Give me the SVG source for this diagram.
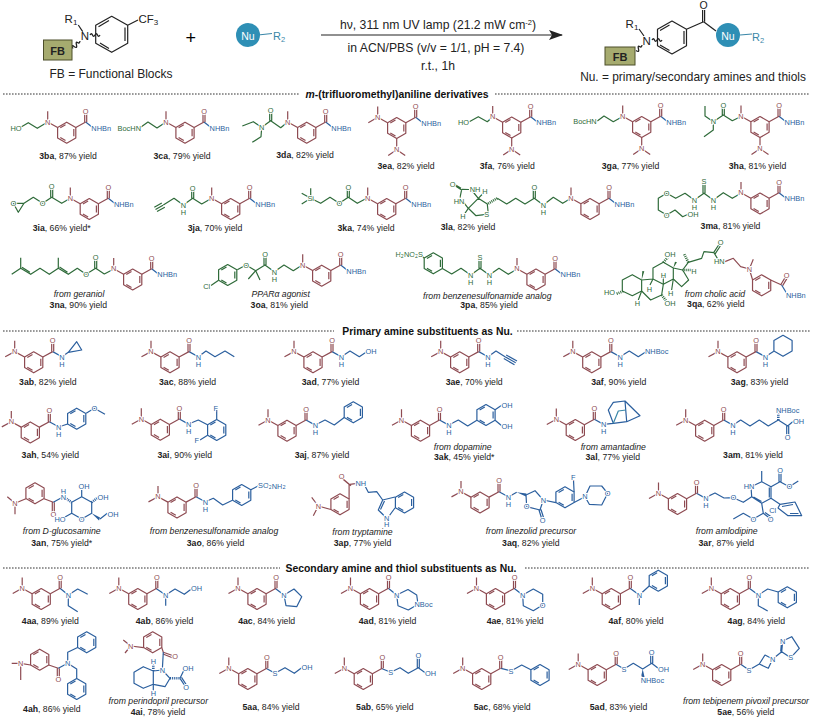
<svg xmlns="http://www.w3.org/2000/svg" width="813" height="718" viewBox="0 0 813 718">
<style>
svg{font-family:"Liberation Sans",Arial,sans-serif}
text{font-family:"Liberation Sans",Arial,sans-serif;fill:currentColor;stroke:none}
path,line{fill:none;stroke:currentColor;stroke-width:1.2;stroke-linejoin:round}
.m{color:#8e4b52}.g{color:#2f6b3a}.u{color:#2b5f9e}.k{color:#222}.te{color:#3a87a8}
.a{font-size:7.4px;text-anchor:middle;dominant-baseline:central;stroke:#fff;stroke-width:2px;paint-order:stroke}
.s{text-anchor:start}.e{text-anchor:end}
.y{font-size:8.7px;text-anchor:middle;dominant-baseline:central;fill:#222}
.i{font-style:italic}.bd{font-weight:bold}
.hd{font-size:10.4px;font-weight:bold;text-anchor:middle;dominant-baseline:central;fill:#111}
.dot{stroke:#333;stroke-width:1;stroke-dasharray:1.6 1.4}
.w{fill:currentColor;stroke:none}
.h{stroke-dasharray:1 .9;stroke-width:2.6}
.r{font-size:12.2px;fill:#222;text-anchor:middle;dominant-baseline:central}
.sc path{stroke-width:3.5}.sc .h{stroke-width:8;stroke-dasharray:3 3}.sc .w{stroke:none}
</style>
<defs>
<marker id="ah" markerWidth="14" markerHeight="10" refX="13" refY="5" orient="auto" markerUnits="userSpaceOnUse"><path d="M0 0L14 5L0 10L3 5Z" style="fill:#222;stroke:none"/></marker>
<g id="ar"><path d="M0-10.5L9.1-5.25V5.25L0 10.5L-9.1 5.25V-5.25ZM7.1-3.6V3.6M-6.4 4.9L-1.2 7.9M-6.4-4.9L-1.2-7.9"/></g>
<g id="base"><path d="M9.1-5.25L19-10.7M18-10.7V-19M20-10.7V-19M-9.1-5.25L-19-10.7V-21.5"/><use href="#ar"/><text class="a" x="19" y="-21.5">O</text></g>
<g id="cA"><path class="u" d="M19-10.7L25-6"/><use href="#base"/><text class="a" x="-19" y="-10.7">N</text><text class="a s u" x="24.6" y="-4.7">NHBn</text></g>
<g id="cB"><path d="M0 10.5V21.8M0 21.8L-8.5 27.5M0 21.8L8.5 27.5"/><use href="#cA"/><text class="a" x="0" y="21.8">N</text></g>
<g id="cD"><path d="M-19-10.7L-28.5-5.5"/><use href="#base"/><text class="a" x="-19" y="-10.7">N</text></g>
<g id="cH"><path class="u" d="M19-10.7L28.3-5.6"/><use href="#cD"/><text class="a u"><tspan x="28.3" y="-5.6">N</tspan><tspan x="28.3" dy="6.8">H</tspan></text></g>
<g id="cy"><path d="M0-10.5L9.1-5.25V5.25L0 10.5L-9.1 5.25V-5.25Z"/></g>
</defs>
<rect width="813" height="718" fill="#fff"/>

<g id="connectors">
<path d="M321 35H562" style="stroke:#222;stroke-width:1.2" marker-end="url(#ah)"/>
<path class="dot" d="M3 94H300M495 94H810M3 331H334M517 331H810M3 568H280M525 568H810"/>
</g>

<g id="reactant-aniline" class="k">
<path d="M111.7 16.3L127.7 25.3V43.3L111.7 52.3L95.7 43.3V25.3ZM98.5 26.8L109 20.5M125 27.5V41M100 43L109 48.5M127.7 25.3L138 20M78.3 25L82.7 31.7"/>
<path d="M90 35q1.5-2.5 2.5 0t2.5 0t2.5 0t2.5 0M80 41q-.5 3-2.5 1.5t-1 2.5t-2.5 1.5t-1 2" style="stroke-width:1.3"/>
<text x="71" y="18.5" font-size="11.5" text-anchor="middle" dominant-baseline="central">R<tspan font-size="8" dy="3">1</tspan></text>
<text x="85" y="36" font-size="11.5" text-anchor="middle" dominant-baseline="central">N</text>
<text x="138.5" y="18.5" font-size="11.5" dominant-baseline="central">CF<tspan font-size="8" dy="3">3</tspan></text>
<rect x="43.5" y="40" width="28.5" height="20" style="fill:#a6ab6f;stroke:#4d4f2a;stroke-width:1"/>
<text x="57.5" y="51" font-size="11" font-weight="bold" text-anchor="middle" dominant-baseline="central">FB</text>
<text x="111" y="74" font-size="12" text-anchor="middle" dominant-baseline="central">FB = Functional Blocks</text>
</g>
<g id="plus"><text x="190.7" y="38" font-size="18" text-anchor="middle" dominant-baseline="central" fill="#222">+</text></g>
<g id="reactant-nu" class="te">
<path d="M258 35L272 33.5"/>
<circle cx="248" cy="35" r="12" fill="#2e8fb5"/>
<text x="248" y="35.5" font-size="10.5" text-anchor="middle" dominant-baseline="central" style="fill:#fff">Nu</text>
<text x="273" y="36" font-size="11" dominant-baseline="central">R<tspan font-size="7.5" dy="3">2</tspan></text>
</g>
<g id="conditions">
<text class="r" x="438" y="25">hν, 311 nm UV lamp (21.2 mW cm<tspan font-size="7.5" dy="-3">-2</tspan><tspan dy="3">)</tspan></text>
<text class="r" x="436" y="48">in ACN/PBS (v/v = 1/1, pH = 7.4)</text>
<text class="r" x="438" y="66">r.t.,  1h</text>
</g>
<g id="product" class="k">
<path d="M672 21L686.5 29.2V45.8L672 54L657.5 45.8V29.2ZM660 30.5L669.5 25M684 31V44M660 45L669.5 50.5M686.5 29.2L703.6 21.7M702.6 21.7V10M704.6 21.7V10M639 29L644 36"/>
<path d="M652 40q1.5-2.5 2.5 0t2.5 0t2.5 0t2.5 0M642 45q-.5 3-2.5 1.5t-1 2.5t-2.5 1.5" style="stroke-width:1.3"/>
<text x="632" y="24" font-size="11.5" text-anchor="middle" dominant-baseline="central">R<tspan font-size="8" dy="3">1</tspan></text>
<text x="646.6" y="41" font-size="11.5" text-anchor="middle" dominant-baseline="central">N</text>
<text x="703.6" y="5" font-size="10.5" text-anchor="middle" dominant-baseline="central">O</text>
<rect x="605" y="47" width="30" height="18" style="fill:#a6ab6f;stroke:#4d4f2a;stroke-width:1"/>
<text x="620" y="57" font-size="11" font-weight="bold" text-anchor="middle" dominant-baseline="central">FB</text>
<path d="M703.6 21.7L716 31"/>
<path class="te" d="M740 35L752 34"/>
<circle cx="728" cy="35" r="12" fill="#2e8fb5"/>
<text x="728" y="35.5" font-size="10.5" text-anchor="middle" dominant-baseline="central" style="fill:#fff">Nu</text>
<text class="te" x="752" y="37" font-size="11" dominant-baseline="central">R<tspan font-size="7.5" dy="3">2</tspan></text>
<text x="693" y="77" font-size="11.9" text-anchor="middle" dominant-baseline="central">Nu. = primary/secondary amines and thiols</text>
</g>

<g id="header-1"><text class="hd" x="397" y="94"><tspan class="i">m</tspan>-(trifluoromethyl)aniline derivatives</text></g>
<g id="header-2"><text class="hd" x="427.5" y="331">Primary amine substituents as Nu.</text></g>
<g id="header-3"><text class="hd" x="401" y="568">Secondary amine and thiol substituents as Nu.</text></g>

<!-- row 1 -->
<g id="c3ba" class="g"><path d="M47.7 122L37.3 128.3L28.3 122.7L20.7 127.3"/><text class="a" x="16" y="128.3">HO</text><use href="#cA" x="66.7" y="132.7" class="m"/><text class="y" x="68" y="156"><tspan class="bd">3ba</tspan>, 87% yield</text></g>
<g id="c3ca" class="g"><path d="M166 122L157 128L148 122L141 127"/><text class="a e" x="141" y="128">BocHN</text><use href="#cA" x="185" y="132.7" class="m"/><text class="y" x="182" y="155.7"><tspan class="bd">3ca</tspan>, 79% yield</text></g>
<g id="c3da" class="g"><path d="M287.7 122L280.7 127.7L270.7 120.7L261.7 127.3L253.3 121.7L242.3 126M261.7 127.3L261 136.7L252.3 142.3M269.7 120.7V112M271.7 120.7V112"/><text class="a" x="270.7" y="110">O</text><text class="a" x="261.7" y="127.3">N</text><use href="#cA" x="306.7" y="132.7" class="m"/><text class="y" x="305" y="155"><tspan class="bd">3da</tspan>, 82% yield</text></g>
<g id="c3ea" class="g"><path class="m" d="M377.7 117.3L368.3 122.7"/><use href="#cB" x="396.7" y="128" class="m"/><text class="y" x="406" y="166"><tspan class="bd">3ea</tspan>, 82% yield</text></g>
<g id="c3fa" class="g"><path d="M492.7 116.7L487.3 121.7L478.3 116.7L469.3 121.7"/><text class="a" x="463.5" y="122.3">HO</text><use href="#cB" x="511.7" y="127.5" class="m"/><text class="y" x="507.3" y="166"><tspan class="bd">3fa</tspan>, 76% yield</text></g>
<g id="c3ga" class="g"><path d="M622.7 116.5L613.3 121.7L604 116L597.3 121"/><text class="a e" x="596.7" y="121.7">BocHN</text><use href="#cB" x="641.7" y="127" class="m"/><text class="y" x="630.5" y="166"><tspan class="bd">3ga</tspan>, 77% yield</text></g>
<g id="c3ha" class="g"><path d="M741 116.5L732.3 120.7L723.3 115L713.3 121.7L705 116V106M713.3 121.7V130L704 136.7M722.3 115V107M724.3 115V107"/><text class="a" x="723.3" y="105">O</text><text class="a" x="713.3" y="121.7">N</text><use href="#cB" x="760" y="127" class="m"/><text class="y" x="757.5" y="166"><tspan class="bd">3ha</tspan>, 81% yield</text></g>

<!-- row 2 -->
<g id="c3ia" class="g"><path d="M70.3 198.3L61.7 203.3L51.7 197.3L42.7 203.3L33.3 197.3L24 203.3L13.3 203.3L18.3 212.3L24 203.3M50.7 197.3V188.5M52.7 197.3V188.5"/><text class="a" x="51.7" y="186.7">O</text><text class="a" x="42.7" y="203.3">O</text><text class="a" x="13.3" y="203.3">O</text><use href="#cA" x="89.3" y="209" class="m"/><text class="y" x="61.7" y="228.3"><tspan class="bd">3ia</tspan>, 66% yield*</text></g>
<g id="c3ja" class="g"><path d="M211.7 198.3L201.7 204L192.7 198.3L183.3 205L174 198.3L163.3 205M161.8 203L154.3 207.3M163 205.2L155.5 209.5M164.8 207.2L157 211.5M191.7 198.3V189.5M193.7 198.3V189.5"/><text class="a" x="192.7" y="188">O</text><text class="a"><tspan x="183.3" y="205">N</tspan><tspan x="183.3" dy="6.8">H</tspan></text><use href="#cA" x="230.7" y="209" class="m"/><text class="y" x="215" y="228"><tspan class="bd">3ja</tspan>, 70% yield</text></g>
<g id="c3ka" class="g"><path d="M366.7 198.3L357.3 203.3L348.3 197.3L339.3 203.3L330 197.3L320.7 203.3L310.7 198.3L301.7 193.3M310.7 198.3V188.3M310.7 198.3L301.7 204M347.3 197.3V189M349.3 197.3V189"/><text class="a" x="348.3" y="187.3">O</text><text class="a" x="339.3" y="203.3">O</text><text class="a" x="310.7" y="198.3">Si</text><use href="#cA" x="386.7" y="209" class="m"/><text class="y" x="366" y="228"><tspan class="bd">3ka</tspan>, 74% yield</text></g>
<g id="c3la" class="g"><path d="M571 198.3L562.7 203.3L553.3 197.3L543.3 205L534.3 198.3L525 204L515.7 198.3L506.7 204L497.3 198.3M533.3 198.3V189M535.3 198.3V189M478.3 198.3L487.3 204L488 211L486.7 214.3L476 215.7L468.3 208.3L478.3 198.3M478.3 198.3L472 190.5M461.7 189.3L469 189.5M461 188.3L454 184M462 190.3L455.5 186M461.7 189.3L459.5 200M463 201.7L468.3 208.3"/><path class="h" d="M497.3 198.3L487.3 204"/><path d="M478.3 198.3L483.5 193M468.3 208.3L464.5 214"/><text class="a" x="534.3" y="187.3">O</text><text class="a"><tspan x="543.3" y="205">N</tspan><tspan x="543.3" dy="6.8">H</tspan></text><text class="a" x="475" y="189.3">NH</text><text class="a" x="459" y="201.7">HN</text><text class="a" x="452.5" y="184.5">O</text><text class="a" x="485" y="191.5">H</text><text class="a" x="463" y="216">H</text><text class="a" x="486.7" y="214.3">S</text><use href="#cA" x="590" y="209" class="m"/><text class="y" x="468" y="227"><tspan class="bd">3la</tspan>, 82% yield</text></g>
<g id="c3ma" class="g"><path d="M741 193.3L732.3 198.3L723.3 192.7L713.3 200L704 193.3L694.3 200L685 193.3L675.7 198.3L666.7 193.3L658.3 198.3V210L666.7 215L675 210L682.7 216.7L688 214.3M703 193.3V183.5M705 193.3V183.5"/><text class="a" x="704" y="181.7">S</text><text class="a"><tspan x="713.3" y="200">N</tspan><tspan x="713.3" dy="6.8">H</tspan></text><text class="a"><tspan x="694.3" y="200">N</tspan><tspan x="694.3" dy="6.8">H</tspan></text><text class="a" x="666.7" y="193.3">O</text><text class="a" x="666.7" y="215">O</text><text class="a s" x="687.5" y="214.3">OH</text><use href="#cA" x="760" y="203.5" class="m"/><text class="y" x="730.5" y="225.7"><tspan class="bd">3ma</tspan>, 81% yield</text></g>

<!-- row 3 -->
<g id="c3na" class="g"><path d="M114 269L104.3 274L95.7 268.3L86 274.3L77.3 268.3L68.3 274.3L58.3 268.3V257.7M58.3 268.3L49.3 274.3L40 268.3L30.7 274.3L20.7 268.3V257.7M20.7 268.3L11.7 274.3M94.7 268.3V259.5M96.7 268.3V259.5M67.5 272.3L59.5 267M29.9 272.3L22 267.2"/><text class="a" x="95.7" y="257.7">O</text><text class="a" x="86" y="274.3">O</text><use href="#cA" x="132.7" y="279.5" class="m"/><text class="y i" x="79" y="293.7">from geraniol</text><text class="y" x="78.3" y="305"><tspan class="bd">3na</tspan>, 90% yield</text></g>
<g id="c3oa" class="g"><path d="M302.3 265L293.3 270.7L284 265L274.3 271.7L265 265L255.7 270.7L246 265L237.3 269.7M255.7 270.7L260 280M255.7 270.7L248.3 279M264 265V256M266 265V256M218.6 280.3L211 285.5"/><use href="#ar" x="227.7" y="275"/><text class="a" x="265" y="254.3">O</text><text class="a"><tspan x="274.3" y="271.7">N</tspan><tspan x="274.3" dy="6.8">H</tspan></text><text class="a" x="246" y="265">O</text><text class="a" x="206.7" y="286.7">Cl</text><use href="#cA" x="321.7" y="275.7" class="m"/><text class="y i" x="280.7" y="293.7">PPARα agonist</text><text class="y" x="279.3" y="305"><tspan class="bd">3oa</tspan>, 81% yield</text></g>
<g id="c3pa" class="g"><path d="M517.3 269L508.3 274.3L499 268.3L489.3 275L480 268.3L470.7 275L461 268.3L451.7 274L442.4 268.6M479 268.3V259.5M481 268.3V259.5M424.2 258L420 254.3"/><use href="#ar" x="433.3" y="263.3"/><text class="a" x="480" y="257.7">S</text><text class="a"><tspan x="489.3" y="275">N</tspan><tspan x="489.3" dy="6.8">H</tspan></text><text class="a"><tspan x="470.7" y="275">N</tspan><tspan x="470.7" dy="6.8">H</tspan></text><text class="a e" x="423" y="254.3">H<tspan font-size="5.5" dy="1.5">2</tspan><tspan dy="-1.5">NO</tspan><tspan font-size="5.5" dy="1.5">2</tspan><tspan dy="-1.5">S</tspan></text><use href="#cA" x="536" y="279.5" class="m"/><text class="y i" x="487.3" y="295.7">from benzenesulfonamide analog</text><text class="y" x="489" y="305"><tspan class="bd">3pa</tspan>, 85% yield</text></g>
<g id="c3qa" class="g">
<g transform="translate(400 205) scale(.3333)" class="sc">
<path d="M667 225L697 209L725 225V258L697 272L667 258ZM725 225L759 222L790 238L785 270L752 285L725 258M759 222V189L790 172L820 189V222L790 238M820 189L848 195L866 225L845 245L820 222M865 172L905 160L912 140L942 143L958 170M848 195L865 172M941 143L956 120M946 146L961 123"/>
<path class="m" d="M975 170L1000 160L1022 185L1048 192L1060 163M1048 192L1058 225M1112 225L1145 240M1142 240L1157 215M1148 242L1163 217"/>
<path class="u" d="M1145 240L1160 265"/>
<path class="w" d="M725 225L727 198L733 199ZM820 189L825 170L831 172Z"/>
<path class="h" d="M650 266L672 258M790 172L803 158M785 270L798 287M865 172L852 146M880 195L848 195"/>
<path d="M790 238V215M759 222L750 240M820 222L815 255M725 258L715 285"/>
<use href="#ar" transform="translate(1085 241) scale(3)" class="m"/>
</g>
<text class="a" x="609.5" y="292.3">HO</text><text class="a" x="670" y="254.3">OH</text><text class="a" x="670" y="303.3">OH</text><text class="a" x="649.3" y="289">H</text><text class="a" x="663.3" y="275.7">H</text><text class="a" x="670.7" y="293.3">H</text><text class="a" x="637.3" y="303.3">H</text><text class="a" x="694" y="271.7">H</text><text class="a" x="719.3" y="261.7">HN</text><text class="a" x="720.7" y="242.7">O</text><text class="a m" x="749.3" y="269">N</text><text class="a m" x="786.7" y="275.7">O</text><text class="a s u" x="786" y="295.7">NHBn</text>
<text class="y i" x="715" y="294.3">from cholic acid</text><text class="y" x="715.8" y="304.3"><tspan class="bd">3qa</tspan>, 62% yield</text></g>

<!-- row 4 -->
<g id="c3ab" class="u"><path d="M62 356.7L68.3 352.3L76.7 341.7L81.7 350L68.3 352.3"/><use href="#cH" x="33.7" y="362.3" class="m"/><text class="y" x="47.8" y="382.3"><tspan class="bd">3ab</tspan>, 82% yield</text></g>
<g id="c3ac" class="u"><path d="M198.3 356.7L206 351L215 356.7L225 351L234.3 356.7"/><use href="#cH" x="170" y="362.3" class="m"/><text class="y" x="187.5" y="382.3"><tspan class="bd">3ac</tspan>, 88% yield</text></g>
<g id="c3ad" class="u"><path d="M341.3 356.7L350 351L359.3 356.7L366.7 351.7"/><text class="a s" x="365.5" y="351">OH</text><use href="#cH" x="313" y="362.3" class="m"/><text class="y" x="330.5" y="382.3"><tspan class="bd">3ad</tspan>, 77% yield</text></g>
<g id="c3ae" class="u"><path d="M488 356.7L496 351L505 356.7L515.7 362.7M503.8 358.5L514.5 364.7M506.2 355L517 361"/><use href="#cH" x="459.7" y="362.3" class="m"/><text class="y" x="474.2" y="382.3"><tspan class="bd">3ae</tspan>, 70% yield</text></g>
<g id="c3af" class="u"><path d="M620 356.7L629.3 351L638.3 356.7L646 351.7"/><text class="a s" x="645" y="351">NHBoc</text><use href="#cH" x="591.8" y="362.3" class="m"/><text class="y" x="618.7" y="382.3"><tspan class="bd">3af</tspan>, 90% yield</text></g>
<g id="c3ag" class="u"><path d="M765.3 356.7L773.8 351.3"/><use href="#cy" x="783" y="345.8"/><use href="#cH" x="737" y="362.3" class="m"/><text class="y" x="759.5" y="382.3"><tspan class="bd">3ag</tspan>, 83% yield</text></g>

<!-- row 5 -->
<g id="c3ah" class="u"><path d="M58.6 427L67.6 424M86.2 413.2L94.3 408.3L105 414.3"/><use href="#ar" x="76.7" y="418.7"/><text class="a" x="94.3" y="408.3">O</text><use href="#cH" x="30.3" y="432.4" class="m"/><text class="y" x="50.3" y="455"><tspan class="bd">3ah</tspan>, 54% yield</text></g>
<g id="c3ai" class="u"><path d="M188.6 424L198.3 420L207.5 424.7M216.7 419.5V410M207.6 435.2L200 440"/><use href="#ar" x="216.7" y="430"/><text class="a" x="215.7" y="408.3">F</text><text class="a" x="196.7" y="440.7">F</text><use href="#cH" x="160.3" y="429.7" class="m"/><text class="y" x="184.7" y="455"><tspan class="bd">3ai</tspan>, 90% yield</text></g>
<g id="c3aj" class="u"><path d="M315.3 425L325 420L334.3 425L344.2 417.5"/><use href="#ar" x="353.3" y="412.3"/><use href="#cH" x="287" y="430.7" class="m"/><text class="y" x="322" y="455"><tspan class="bd">3aj</tspan>, 87% yield</text></g>
<g id="c3ak" class="u"><path d="M448.8 425L458.3 420L467.7 426L476.9 420.3M495.1 409.8L502 405M495.1 420.2L502 426"/><use href="#ar" x="486" y="415"/><text class="a s" x="501.5" y="405">OH</text><text class="a s" x="501.5" y="426.7">OH</text><use href="#cH" x="420.5" y="430.7" class="m"/><text class="y i" x="462.7" y="446.7">from dopamine</text><text class="y" x="464.2" y="457"><tspan class="bd">3ak</tspan>, 45% yield*</text></g>
<g id="c3al" class="u"><path d="M603.6 424.4L613.3 423.3L608.3 410L613.3 402.3L625 401L640 415.7L626.7 421.7L613.3 423.3M625 401L626.7 421.7"/><path class="te" d="M613.3 423.3L618.3 411L626 410"/><use href="#cH" x="575.3" y="430" class="m"/><text class="y i" x="613.3" y="447">from amantadine</text><text class="y" x="612.8" y="457"><tspan class="bd">3al</tspan>, 77% yield</text></g>
<g id="c3am" class="u"><path d="M733 425L740.7 420L750 426L759.3 420L768.3 426L778.3 420L787.7 426L793 421.5M786.7 426V436M788.7 426V436"/><path class="h" d="M778.3 420V413"/><text class="a s" x="776" y="410">NHBoc</text><text class="a s" x="793" y="421">OH</text><text class="a" x="787.7" y="437.7">O</text><use href="#cH" x="704.7" y="430.7" class="m"/><text class="y" x="753" y="455"><tspan class="bd">3am</tspan>, 81% yield</text></g>

<!-- row 6 -->
<g id="c3an" class="u"><path class="m" d="M25.9 498.8L15 503.3L7.3 496.7M15 503.3V514.3M44.1 498.8L53.3 502.3M52.3 502.3V512.5M54.3 502.3V512.5"/><path d="M53.3 502.3L63.3 496.7M71.7 502.3L81.7 496.7L91.7 502.3V513.3L81.7 519L71.7 513.3ZM71.7 513.3L65 517M100 519L107.3 513.3M81.7 496.7V490"/><path class="h" d="M63.3 496.7L71.7 502.3M91.7 502.3L98 497.5"/><path class="w" d="M91.7 513.3L100 517.5L99 520.5Z"/><use href="#ar" x="35" y="493.3" class="m"/><text class="a m" x="15" y="503.3">N</text><text class="a m" x="53.3" y="514.3">O</text><text class="a"><tspan x="63.3" y="490.5">H</tspan><tspan x="63.3" dy="6.5">N</tspan></text><text class="a" x="84" y="486.7">OH</text><text class="a s" x="97.5" y="497">OH</text><text class="a" x="81.7" y="519">O</text><text class="a" x="60" y="519">HO</text><text class="a s" x="107.5" y="514">OH</text><text class="y i" x="61.7" y="531">from D-glucosamine</text><text class="y" x="61.7" y="543.3"><tspan class="bd">3an</tspan>, 75% yield*</text></g>
<g id="c3ao" class="u"><path d="M205.3 501.8L213.3 498.3L222.7 505L232.4 500.3M250.8 489.8L258 486"/><use href="#ar" x="241.7" y="495"/><text class="a s" x="258" y="485.7">SO<tspan font-size="5.5" dy="1.5">2</tspan><tspan dy="-1.5">NH</tspan><tspan font-size="5.5" dy="1.5">2</tspan></text><use href="#cH" x="177" y="507.4" class="m"/><text class="y i" x="214" y="531">from benzenesulfonamide analog</text><text class="y" x="215.5" y="543"><tspan class="bd">3ao</tspan>, 86% yield</text></g>
<g id="c3ap" class="u"><path class="m" d="M330.9 509.5L318.3 506L311.7 497.3M318.3 506L313.3 515.7M349.1 499V484.3M349 484.3L341 477.5M351 485.8L343 479M350 484.3L357 483.3"/><path d="M364 484L368.3 492.3L376.7 491.7L382.7 500L378.3 510L385 516.5M382.7 500L395 497M388 517.5L395 508M384.5 501L380.5 509.5"/><use href="#ar" x="404.5" y="502.5"/><use href="#ar" x="340" y="504.3" class="m"/><text class="a m" x="318.3" y="506">N</text><text class="a m" x="341.7" y="476">O</text><text class="a s" x="355.5" y="483.3">NH</text><text class="a"><tspan x="386.7" y="518">N</tspan><tspan x="386.7" dy="6">H</tspan></text><text class="y i" x="362.5" y="532">from tryptamine</text><text class="y" x="362.5" y="543"><tspan class="bd">3ap</tspan>, 77% yield</text></g>
<g id="c3aq" class="u"><path d="M508.3 497L516.7 492.3M526 495L535 490.7L543.3 500L540 510L526.7 506.7L526 495M539 510L541.5 518M541 509.5L543.5 517.5M543.3 500L555.9 502.7M574.1 492L573.5 480M574.1 502.5L585 496.7L590 486H601.7L607.7 493.3L601.7 505L589.3 504.3L585 496.7"/><path class="w" d="M516.7 492.3L526.5 493.5L526 496.5Z"/><use href="#ar" x="565" y="497.3"/><text class="a" x="543.3" y="500">N</text><text class="a" x="526.7" y="506.7">O</text><text class="a" x="542.7" y="520">O</text><text class="a" x="573.3" y="477.7">F</text><text class="a" x="585" y="496.7">N</text><text class="a" x="607.7" y="493.3">O</text><use href="#cH" x="480" y="502.4" class="m"/><text class="y i" x="531" y="531">from linezolid precursor</text><text class="y" x="530.8" y="543"><tspan class="bd">3aq</tspan>, 82% yield</text></g>
<g id="c3ar" class="u"><path d="M705.8 497.4L715 493L724 498L733.3 497.7L743.3 502.3L751.7 496.7L751 486.7L761.7 481.7V471M761.7 481.7L771 486.7V498.3L761.7 503.3L751.7 496.7M769.3 487.5V497.5M753.5 497L761.5 501.5M771 486.7L780 481.7L789.3 486.7L798.3 481M779 481.7V472M781 481.7V472M771 498.3L780 504.3L795 502L801.7 515.7L788 515.7L778 508L780 504.3M782 506.5L793 504.5M790 513.5L798.5 513.5M761.7 503.3L763.3 513.3L770.7 519M765 512.5L771.5 517M763.3 513.3L753.3 519L743.3 513.3L733.3 519"/><text class="a" x="733.3" y="497.7">O</text><text class="a" x="749" y="486.7">HN</text><text class="a" x="780" y="470">O</text><text class="a" x="789.3" y="486.7">O</text><text class="a" x="772.7" y="510.7">Cl</text><text class="a" x="770.7" y="519">O</text><text class="a" x="753.3" y="519">O</text><use href="#cH" x="677.5" y="504" class="m"/><text class="y i" x="726.7" y="531">from amlodipine</text><text class="y" x="726.3" y="543"><tspan class="bd">3ar</tspan>, 87% yield</text></g>

<!-- row 7 -->
<g id="c4aa" class="u"><path d="M60 588.3L68.3 595L77.7 589L87.7 594.3M68.3 595V605.7L77.7 611.7"/><text class="a" x="68.3" y="595">N</text><use href="#cD" x="41.2" y="599" class="m"/><text class="y" x="50.3" y="620.7"><tspan class="bd">4aa</tspan>, 89% yield</text></g>
<g id="c4ab" class="u"><path d="M155.7 588.3L165.7 595L175 589L184.3 594.3L190.7 589.5M165.7 595V605.7"/><text class="a" x="165.7" y="595">N</text><text class="a s" x="191" y="588.3">OH</text><use href="#cD" x="137.8" y="599" class="m"/><text class="y" x="164.5" y="620.7"><tspan class="bd">4ab</tspan>, 86% yield</text></g>
<g id="c4ac" class="u"><path d="M275 588.3L284 595L294 589L301.7 596.7L296.7 606.7L286 605.7L284 595"/><text class="a" x="284" y="595">N</text><use href="#cD" x="257" y="599" class="m"/><text class="y" x="266.7" y="620.7"><tspan class="bd">4ac</tspan>, 84% yield</text></g>
<g id="c4ad" class="u"><path d="M388.3 588.3L396.7 595L408 589.5L416.7 595L418 604.3L408.3 610L398 605.7L396.7 595"/><text class="a" x="396.7" y="595">N</text><text class="a s" x="414.5" y="604.3">NBoc</text><use href="#cD" x="369.5" y="599" class="m"/><text class="y" x="387.5" y="620.7"><tspan class="bd">4ad</tspan>, 81% yield</text></g>
<g id="c4ae" class="u"><path d="M514 588.3L522.7 595L533.3 589L542.7 594.3V605L533.3 610.7L523.3 605.7L522.7 595"/><text class="a" x="522.7" y="595">N</text><text class="a" x="542.7" y="605">O</text><use href="#cD" x="495.5" y="599" class="m"/><text class="y" x="515.2" y="620.7"><tspan class="bd">4ae</tspan>, 81% yield</text></g>
<g id="c4af" class="u"><path d="M630 588.3L639.3 595V605M639.3 595L649.2 586"/><use href="#ar" x="658.3" y="580.7"/><text class="a" x="639.3" y="595">N</text><use href="#cD" x="611.3" y="599" class="m"/><text class="y" x="636" y="620.7"><tspan class="bd">4af</tspan>, 80% yield</text></g>
<g id="c4ag" class="u"><path d="M749.3 588.3L758.3 595L767.7 589L778.2 592M758.3 595V605.7L767.7 611"/><use href="#ar" x="787.3" y="597.3"/><text class="a" x="758.3" y="595">N</text><use href="#cD" x="730.3" y="599" class="m"/><text class="y" x="756.3" y="620.7"><tspan class="bd">4ag</tspan>, 84% yield</text></g>

<!-- row 8 -->
<g id="c4ah" class="u"><path class="m" d="M30.6 665L20.7 663.3L11.7 663.3M20.7 663.3V680M48.8 665L58.3 668.3M57.3 668.3V677.5M59.3 668.3V677.5"/><path d="M58.3 668.3L67.7 663.3V652.3L77.6 647.5M67.7 663.3L76.7 669V678.5"/><use href="#ar" x="86.7" y="642.3"/><use href="#ar" x="76.7" y="689"/><use href="#ar" x="39.7" y="659.7" class="m"/><text class="a m" x="20.7" y="663.3">N</text><text class="a m" x="58.3" y="679.3">O</text><text class="a" x="67.7" y="663.3">N</text><text class="y" x="51.8" y="709"><tspan class="bd">4ah</tspan>, 86% yield</text></g>
<g id="c4ai" class="u"><path class="m" d="M143.6 647.6L130.7 646L123.3 640M130.7 646L125 653M161.8 647.6L163.3 652.3L174 656M163 654L173 658"/><path d="M163.3 652.3L162.3 670L170 678.3L165 686.7L153.3 684.3V671L162.3 670M153.3 671L143.3 666.7L134 672.3V683.3L143.3 688.3L153.3 684.3M180 678.3L185 686M181.5 677.3L186.5 685M180 678.3L184 670"/><path class="h" d="M153.3 671V664M170 678.3H180"/><path d="M153.3 684.3V690.5"/><use href="#ar" x="152.7" y="642.3" class="m"/><text class="a m" x="130.7" y="646">N</text><text class="a m" x="175" y="656.7">O</text><text class="a" x="162.3" y="670">N</text><text class="a" x="153.3" y="661.7">H</text><text class="a" x="153.3" y="693.3">H</text><text class="a" x="186" y="687.7">O</text><text class="a s" x="182.5" y="668.3">OH</text><text class="y i" x="158.3" y="701">from perindopril precursor</text><text class="y" x="158" y="711.7"><tspan class="bd">4ai</tspan>, 78% yield</text></g>
<g id="c5aa" class="u"><path d="M266 668.3L275 673.3L285 667.7L294.3 673.3L301.7 667.7"/><text class="a" x="275" y="673.3">S</text><text class="a s" x="301.5" y="667">OH</text><use href="#cD" x="247.8" y="679" class="m"/><text class="y" x="271" y="707.3"><tspan class="bd">5aa</tspan>, 84% yield</text></g>
<g id="c5ab" class="u"><path d="M381 668.3L390.7 672.3L400 667.7L408.3 673.3L418.3 667.7L425.5 673M417.3 667.7V657M419.3 667.7V657"/><text class="a" x="390.7" y="672.3">S</text><text class="a" x="418.3" y="655">O</text><text class="a s" x="425" y="673.3">OH</text><use href="#cD" x="363.3" y="679" class="m"/><text class="y" x="384.8" y="707.3"><tspan class="bd">5ab</tspan>, 65% yield</text></g>
<g id="c5ac" class="u"><path d="M501 668.3L511 671L521.7 665L530.9 669.7"/><use href="#ar" x="540" y="675"/><text class="a" x="511" y="671">S</text><use href="#cD" x="481.7" y="679" class="m"/><text class="y" x="502.2" y="707"><tspan class="bd">5ac</tspan>, 68% yield</text></g>
<g id="c5ad" class="u"><path d="M616 664.3L624 669L633.3 663.3L642.7 669L651.7 663.3L658.5 668.5M650.7 663.3V654M652.7 663.3V654"/><path class="w" d="M642.7 669L641 677L644.5 677Z"/><text class="a" x="624" y="669">S</text><text class="a" x="651.7" y="652.3">O</text><text class="a s" x="658" y="669">OH</text><text class="a s" x="640.7" y="680">NHBoc</text><use href="#cD" x="597.2" y="675" class="m"/><text class="y" x="618.5" y="707"><tspan class="bd">5ad</tspan>, 83% yield</text></g>
<g id="c5ae" class="u"><path d="M740.7 664.3L749 670L759.3 664L765 655L772.7 659L768.3 668.3L759.3 664M772.7 659L781.7 651.7L782.7 641L791.7 636.7L799.3 648.3L790.7 657.7L781.7 651.7M780.7 651.5L781.5 642.5"/><text class="a" x="749" y="670">S</text><text class="a" x="772.7" y="659">N</text><text class="a" x="782.7" y="641">N</text><text class="a" x="790.7" y="657.7">S</text><use href="#cD" x="721.7" y="675" class="m"/><text class="y i" x="746" y="701">from tebipenem pivoxil precursor</text><text class="y" x="745.8" y="711.7"><tspan class="bd">5ae</tspan>, 56% yield</text></g>
</svg>
